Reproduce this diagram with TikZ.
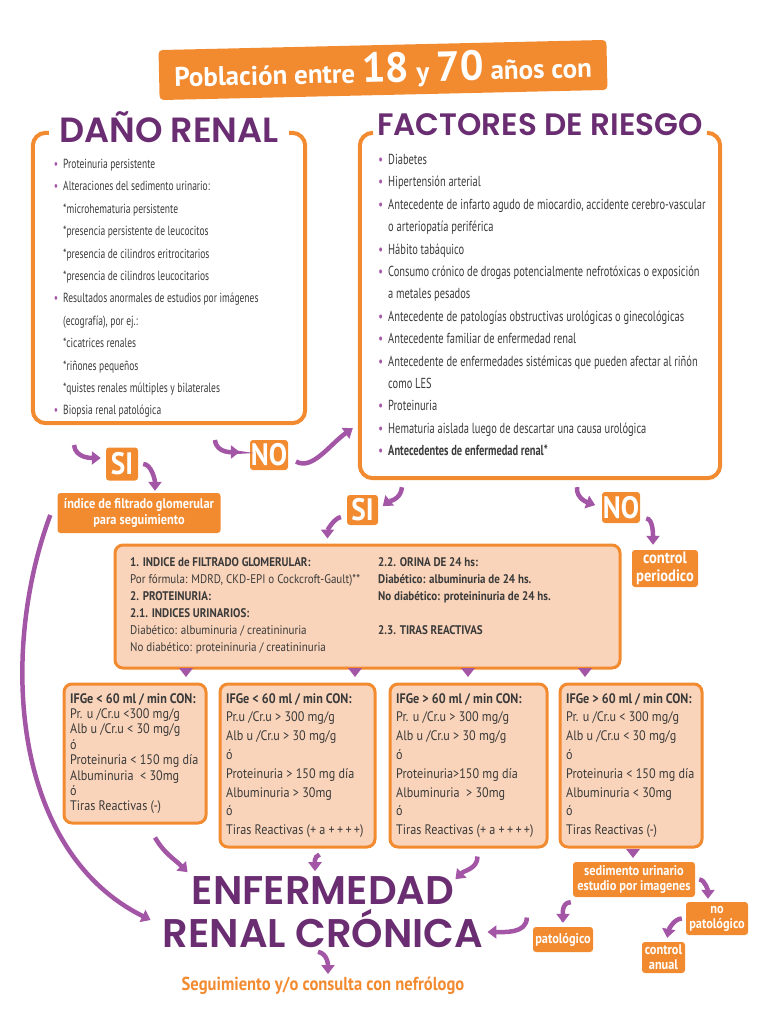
\documentclass[tikz,border=0pt]{standalone}
\usepackage{fontspec}
\setmainfont{PT Sans}
\newfontfamily\condfont{PT Sans}[FakeStretch=0.72]
\newfontfamily\medfont{PT Sans}[FakeStretch=0.88]
\newfontfamily\ttlfont{Poppins SemiBold}
\usetikzlibrary{arrows.meta, positioning, calc}

\definecolor{naranja}{HTML}{F28A30}
\definecolor{morado}{HTML}{6A2D72}
\definecolor{flecha}{HTML}{A356A6}
\definecolor{durazno}{HTML}{F9D4BA}
\definecolor{texto}{HTML}{3A3A3A}

\newcommand{\vin}{\llap{\textcolor{flecha}{\textbullet}\hspace{5pt}}}
\newcommand{\punta}[1]{\fill[flecha] ($(#1)+(-7,4)$) -- ++(14,0) -- ++(-7,-9) -- cycle;}

\tikzset{
  marco/.style={draw=naranja, line width=4pt, rounded corners=13pt},
  titulo/.style={text=morado, inner sep=0pt, font=\ttlfont\fontsize{35}{35}\selectfont},
  lista/.style={align=left, inner sep=0pt, text=texto, font=\condfont\fontsize{14.5}{22.4}\selectfont},
  etiq/.style={fill=naranja, text=white, rounded corners=3pt, inner sep=0pt, align=center,
    font=\medfont\bfseries\fontsize{14}{16.5}\selectfont},
  sino/.style={etiq, font=\medfont\bfseries\fontsize{31}{31}\selectfont},
  caja/.style={draw=naranja, fill=durazno, line width=3pt, rounded corners=8pt, inner sep=0pt},
  crit/.style={align=left, inner sep=0pt, text=texto, font=\medfont\fontsize{13.8}{18.8}\selectfont},
  flechac/.style={draw=flecha, line width=4.5pt, -{Triangle[width=13pt,length=9pt]}},
}

\begin{document}
\begin{tikzpicture}[x=1pt, y=1pt]
\useasboundingbox (0,0) rectangle (768,-1024);

% encabezado
\node[fill=naranja, rounded corners=4pt, rotate=1.3, minimum width=448, minimum height=50,
  text=white, font=\bfseries\fontsize{27}{27}\selectfont] (pob) at (383,-70)
  {Población entre {\fontsize{42}{42}\selectfont 18} y {\fontsize{42}{42}\selectfont 70} años con};

% dano renal
\node[minimum width=272, minimum height=290, inner sep=0pt] (danobox) at (169,-278) {};
\draw[marco] ([xshift=16]danobox.north west) -- (danobox.north west) -- (danobox.south west)
  -- (danobox.south east) -- (danobox.north east) -- ([xshift=-16]danobox.north east);
\node[titulo, anchor=base] (dano) at (169,-143) {DAÑO RENAL};
\node[lista, anchor=north west, font=\condfont\fontsize{13.2}{22.4}\selectfont] (danolist) at (63,-159) {%
  \vin Proteinuria persistente\\
  \vin Alteraciones del sedimento urinario:\\
  *microhematuria persistente\\
  *presencia persistente de leucocitos\\
  *presencia de cilindros eritrocitarios\\
  *presencia de cilindros leucocitarios\\
  \vin Resultados anormales de estudios por imágenes\\
  (ecografía), por ej.:\\
  *cicatrices renales\\
  *riñones pequeños\\
  *quistes renales múltiples y bilaterales\\
  \vin Biopsia renal patológica};

% factores de riesgo
\node[minimum width=360, minimum height=345, inner sep=0pt] (factbox) at (540,-305.5) {};
\draw[marco] ([xshift=12]factbox.north west) -- (factbox.north west) -- (factbox.south west)
  -- (factbox.south east) -- (factbox.north east) -- ([xshift=-12]factbox.north east);
\node[titulo, anchor=base, font=\ttlfont\fontsize{31}{31}\selectfont] (fact) at (540,-136) {FACTORES DE RIESGO};
\node[lista, anchor=north west] (factlist) at (388,-154) {%
  \vin Diabetes\\
  \vin Hipertensión arterial\\
  \vin Antecedente de infarto agudo de miocardio, accidente cerebro-vascular\\
  o arteriopatía periférica\\
  \vin Hábito tabáquico\\
  \vin Consumo crónico de drogas potencialmente nefrotóxicas o exposición\\
  a metales pesados\\
  \vin Antecedente de patologías obstructivas urológicas o ginecológicas\\
  \vin Antecedente familiar de enfermedad renal\\
  \vin Antecedente de enfermedades sistémicas que pueden afectar al riñón\\
  como LES\\
  \vin Proteinuria\\
  \vin Hematuria aislada luego de descartar una causa urológica\\
  \vin \textbf{Antecedentes de enfermedad renal*}};

% evaluacion
\node[caja, minimum width=505, minimum height=123] (eval) at (367.5,-606.5) {};
\node[crit, anchor=north west, font=\medfont\fontsize{12.5}{17}\selectfont] (col1) at (130,-557) {%
  \textbf{1. INDICE de FILTRADO GLOMERULAR:}\\
  Por fórmula: MDRD, CKD-EPI o Cockcroft-Gault)**\\
  \textbf{2. PROTEINURIA:}\\
  \textbf{2.1. INDICES URINARIOS:}\\
  Diabético: albuminuria / creatininuria\\
  No diabético: proteininuria / creatininuria};
\node[crit, anchor=north west, font=\medfont\bfseries\fontsize{12.5}{17}\selectfont] (col2) at (378,-557) {%
  2.2. ORINA DE 24 hs:\\
  Diabético: albuminuria de 24 hs.\\
  No diabético: proteininuria de 24 hs.\\
  \\
  2.3. TIRAS REACTIVAS};
\punta{186,-672}
\punta{355,-672}
\punta{468,-672}
\punta{585,-672}

% SI / NO superiores
\node[sino, minimum width=32, minimum height=33] (si1) at (122,-464) {SI};
\node[sino, minimum width=38, minimum height=30] (no1) at (269,-455) {NO};
\node[etiq, minimum width=163, minimum height=40] (indice) at (139,-513)
  {índice de filtrado glomerular\\para seguimiento};
\node[sino, minimum width=31, minimum height=30] (si2) at (362.5,-510) {SI};
\node[sino, minimum width=38, minimum height=31] (no2) at (621,-507.5) {NO};
\node[etiq, minimum width=66, minimum height=37, font=\medfont\bfseries\fontsize{16.5}{17.5}\selectfont]
  (cper) at (665,-568.5) {control\\periodico};

\coordinate (a1) at (74,-445);
\coordinate (a3) at (215,-440);
\draw[flechac, shorten >=5pt] (a1) to[out=-85, in=180] ([yshift=6]si1.west);
\draw[flechac, shorten <=5pt, shorten >=2pt] (si1.east) to[out=0, in=90] ([xshift=16]indice.north);
\draw[flechac, shorten >=10pt] (a3) to[out=-85, in=180] ([yshift=3]no1.west);
\draw[flechac, shorten <=9pt] ([yshift=-2]no1.east) to[out=-30, in=215] ([xshift=-7,yshift=50]factbox.south west);
\draw[flechac, shorten >=6pt] ([xshift=-138,yshift=-9]factbox.south) to[out=-95, in=40] (si2.east);
\draw[flechac, shorten <=6pt, shorten >=5pt] ([yshift=-6]si2.west) to[out=190, in=90] ([xshift=-40]eval.north);
\draw[flechac, shorten >=7pt] ([xshift=37,yshift=-9]factbox.south) to[out=-95, in=160] (no2.west);
\draw[flechac, shorten <=6pt, shorten >=5pt] ([yshift=-11]no2.east) to[out=0, in=90] ([xshift=-12]cper.north);

% criterios
\node[caja, minimum width=142, minimum height=139] (b1) at (135,-753.5) {};
\node[caja, minimum width=155, minimum height=163] (b2) at (297.5,-765.5) {};
\node[caja, minimum width=157, minimum height=163] (b3) at (468.5,-765.5) {};
\node[caja, minimum width=142, minimum height=163] (b4) at (631,-765.5) {};
\node[crit, anchor=north west, font=\medfont\fontsize{13.8}{15.4}\selectfont] (t1) at (70,-693) {%
  \textbf{IFGe < 60 ml / min CON:}\\
  Pr. u /Cr.u <300 mg/g\\
  Alb u /Cr.u < 30 mg/g\\
  ó\\
  Proteinuria < 150 mg día\\
  Albuminuria \ < 30mg\\
  ó\\
  Tiras Reactivas (-)};
\node[crit, anchor=north west] (t2) at (226,-693) {%
  \textbf{IFGe < 60 ml / min CON:}\\
  Pr.u /Cr.u > 300 mg/g\\
  Alb u /Cr.u > 30 mg/g\\
  ó\\
  Proteinuria > 150 mg día\\
  Albuminuria > 30mg\\
  ó\\
  Tiras Reactivas (+ a +\,+\,+\,+)};
\node[crit, anchor=north west] (t3) at (396,-693) {%
  \textbf{IFGe > 60 ml / min CON:}\\
  Pr. u /Cr.u > 300 mg/g\\
  Alb u /Cr.u > 30 mg/g\\
  ó\\
  Proteinuria>150 mg día\\
  Albuminuria \ > 30mg\\
  ó\\
  Tiras Reactivas (+ a +\,+\,+\,+)};
\node[crit, anchor=north west] (t4) at (566,-693) {%
  \textbf{IFGe > 60 ml / min CON:}\\
  Pr. u /Cr.u < 300 mg/g\\
  Alb u /Cr.u < 30 mg/g\\
  ó\\
  Proteinuria < 150 mg día\\
  Albuminuria < 30mg\\
  ó\\
  Tiras Reactivas (-)};

% diagnostico
\node[text=morado, inner sep=0pt, align=center, font=\ttlfont\fontsize{40}{43}\selectfont]
  (erc) at (323,-912) {ENFERMEDAD\\RENAL CRÓNICA};
\node[text=naranja, inner sep=0pt, font=\medfont\bfseries\fontsize{18.8}{18.8}\selectfont]
  (seg) at (323,-986) {Seguimiento y/o consulta con nefrólogo};

\node[etiq, minimum width=122, minimum height=35, font=\medfont\bfseries\fontsize{14}{15}\selectfont]
  (sedim) at (634,-879.5) {sedimento urinario\\estudio por imagenes};
\node[etiq, minimum width=62, minimum height=33, font=\medfont\bfseries\fontsize{14}{15}\selectfont]
  (nopat) at (717,-918.5) {no\\patológico};
\node[etiq, minimum width=43, minimum height=31, font=\medfont\bfseries\fontsize{14}{15}\selectfont]
  (canual) at (663.5,-957.5) {control\\anual};
\node[etiq, minimum width=60, minimum height=25, font=\medfont\bfseries\fontsize{14}{15}\selectfont]
  (pato) at (563,-939.5) {patológico};
\punta{633,-853}

\draw[flechac] ([xshift=20,yshift=-13]b1.south) to[out=-60, in=135] ([xshift=25,yshift=4]erc.north west);
\draw[flechac] ([xshift=22,yshift=-6]b2.south) to[out=200, in=90] ([xshift=-8,yshift=5]erc.north);
\draw[flechac] ([xshift=9,yshift=-8]b3.south) to[out=-90, in=45] ([xshift=-28,yshift=-3]erc.north east);
\draw[flechac] ([xshift=-7,yshift=-2]indice.west) .. controls (0,-650) and (10,-850) .. ([xshift=-12,yshift=-8]erc.west);
\draw[flechac] ([xshift=-6,yshift=22]pato.west) to[out=-90, in=0] ([xshift=4,yshift=-20]erc.east);
\draw[flechac] ([xshift=-5,yshift=-4]erc.south) to[out=-10, in=90] ([xshift=5,yshift=3]seg.north);
\draw[flechac, shorten <=4pt, shorten >=3pt] (sedim.east) to[out=0, in=90] ([xshift=-9]nopat.north);
\draw[flechac, shorten <=4pt, shorten >=4pt] (nopat.west) to[out=180, in=80] ([xshift=3]canual.north);
\draw[flechac, shorten >=4pt] ([xshift=-2,yshift=-5]sedim.south west) to[out=180, in=90] (pato.north);
\end{tikzpicture}
\end{document}
